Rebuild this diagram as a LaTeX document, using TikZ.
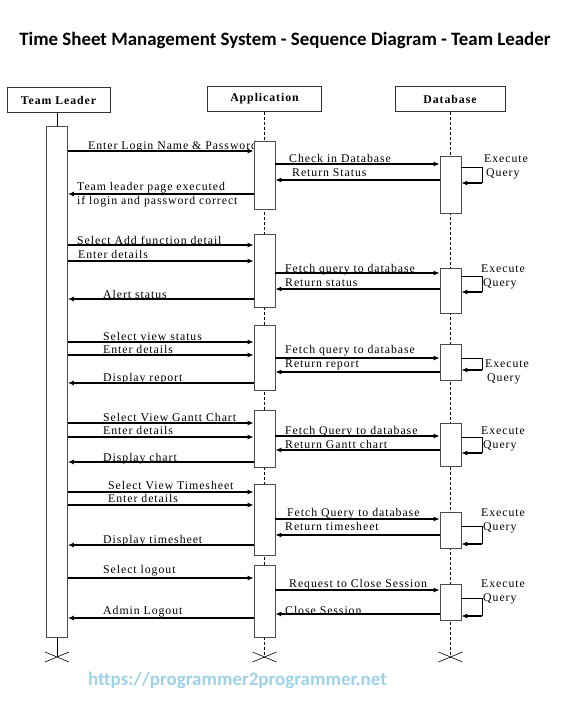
\documentclass[tikz,border=0pt]{standalone}
\usepackage{fontspec}
\setmainfont{Liberation Serif}[LetterSpace=8]
\newfontfamily\titlefont{Carlito}
\usetikzlibrary{arrows.meta,calc}
\definecolor{wmblue}{RGB}{158,210,232}
\tikzset{
  head/.style={draw=black!80, line width=0.8pt, minimum height=25pt, inner sep=0pt, font=\fontsize{11.8}{13}\selectfont\bfseries},
  act/.style={draw=black!70, line width=0.7pt, fill=white, minimum width=21pt, inner sep=0pt},
  msg/.style={line width=1.2pt, -{Latex[length=6pt,width=5pt]}},
  loopl/.style={line width=0.8pt},
  lbl/.style={anchor=base west, inner sep=0pt, yshift=-1.5pt, font=\fontsize{11.8}{13}\selectfont},
  life/.style={line width=0.9pt, dash pattern=on 3pt off 2pt},
  xmark/.style={line width=0.6pt}
}
\begin{document}
\begin{tikzpicture}[x=1pt,y=-1pt]
\useasboundingbox (0,0) rectangle (576,708);
% title
\node[font=\titlefont\fontsize{18.9}{21}\selectfont\bfseries] (title) at (285,40) {Time Sheet Management System - Sequence Diagram - Team Leader};
% headers
\node[head, minimum width=103pt] (tl) at (58.5,100) {Team Leader};
\node[head, minimum width=114pt] (app) at (264.5,99) {Application};
\node[head, minimum width=110pt] (db) at (450,99) {Database};
% end markers
\coordinate (tlx) at (57,657);
\coordinate (appx) at (264.5,657);
\coordinate (dbx) at (450.5,657);
\draw[xmark] ($(tlx)+(-12,-5)$) -- ($(tlx)+(12,5)$) ($(tlx)+(-12,5)$) -- ($(tlx)+(12,-5)$);
% lifelines
\draw[line width=0.7pt] (tl.south -| tlx) -- (57,126);
\draw[line width=0.7pt] (57,637) -- (tlx);
\draw[life] (app.south -| appx) -- (appx);
\draw[life] (db.south -| dbx) -- (dbx);
\foreach \p in {appx,dbx}{
  \draw[xmark] ($(\p)+(-12,-5)$) -- ($(\p)+(12,5)$) ($(\p)+(-12,5)$) -- ($(\p)+(12,-5)$);
}
% labels
\node[lbl] (l1) at (88,148) {Enter Login Name \& Password};
\node[lbl] (l2) at (289,161) {Check in Database};
\node[lbl] (l3) at (292,175) {Return Status};
\node[lbl] (l4) at (77,189) {Team leader page executed};
\node[lbl] (l5) at (77,203) {if login and password correct};
\node[lbl] (l6) at (77,243) {Select Add function detail};
\node[lbl] (l7) at (78,257) {Enter details};
\node[lbl] (l8) at (285,271) {Fetch query to database};
\node[lbl] (l9) at (285,285) {Return status};
\node[lbl] (l10) at (103,297) {Alert status};
\node[lbl] (l11) at (103,339) {Select view status};
\node[lbl] (l12) at (103,352) {Enter details};
\node[lbl] (l13) at (285,352) {Fetch query to database};
\node[lbl] (l14) at (285,366) {Return report};
\node[lbl] (l15) at (103,380) {Display report};
\node[lbl] (l16) at (103,420) {Select View Gantt Chart};
\node[lbl] (l17) at (103,433) {Enter details};
\node[lbl] (l18) at (285,433) {Fetch Query to database};
\node[lbl] (l19) at (285,447) {Return Gantt chart};
\node[lbl] (l20) at (103,460) {Display chart};
\node[lbl] (l21) at (108,488) {Select View Timesheet};
\node[lbl] (l22) at (108,501) {Enter details};
\node[lbl] (l23) at (287,515) {Fetch Query to database};
\node[lbl] (l24) at (285,529) {Return timesheet};
\node[lbl] (l25) at (103,542) {Display timesheet};
\node[lbl] (l26) at (103,572) {Select logout};
\node[lbl] (l27) at (289,586) {Request to Close Session};
\node[lbl] (l28) at (285,613) {Close Session};
\node[lbl] (l29) at (103,613) {Admin Logout};
% execute query labels
\foreach \x/\y [count=\i] in {484/161,481/271,485/366,481/433,481/515,481/586}{
  \node[lbl] (eq\i) at (\x,\y) {Execute};
  \node[lbl] (eqq\i) at (\x+2,\y+14) {Query};
}
% activations
\node[act, minimum height=511pt] (tla) at (57,381.5) {};
\node[act, minimum height=68pt] (a1) at (264.5,175) {};
\node[act, minimum height=73pt] (a2) at (264.5,270.5) {};
\node[act, minimum height=65pt] (a3) at (264.5,357.5) {};
\node[act, minimum height=57pt] (a4) at (264.5,438.5) {};
\node[act, minimum height=71pt] (a5) at (264.5,519.5) {};
\node[act, minimum height=72pt] (a6) at (264.5,601) {};
\node[act, minimum height=57pt] (d1) at (450.5,184.5) {};
\node[act, minimum height=45pt] (d2) at (450.5,290.5) {};
\node[act, minimum height=36pt] (d3) at (450.5,362) {};
\node[act, minimum height=43pt] (d4) at (450.5,444.5) {};
\node[act, minimum height=36pt] (d5) at (450.5,530) {};
\node[act, minimum height=36pt] (d6) at (450.5,602) {};
% messages group 1
\draw[msg] (tla.east |- 0,151) -- (a1.west |- 0,151);
\draw[msg] (a1.east |- 0,164) -- (d1.west |- 0,164);
\draw[msg] (d1.west |- 0,180) -- (a1.east |- 0,180);
\draw[msg] (a1.west |- 0,194) -- (tla.east |- 0,194);
% group 2
\draw[msg] (tla.east |- 0,245) -- (a2.west |- 0,245);
\draw[msg] (tla.east |- 0,261) -- (a2.west |- 0,261);
\draw[msg] (a2.east |- 0,273) -- (d2.west |- 0,273);
\draw[msg] (d2.west |- 0,289) -- (a2.east |- 0,289);
\draw[msg] (a2.west |- 0,299) -- (tla.east |- 0,299);
% group 3
\draw[msg] (tla.east |- 0,342) -- (a3.west |- 0,342);
\draw[msg] (tla.east |- 0,355) -- (a3.west |- 0,355);
\draw[msg] (a3.east |- 0,358) -- (d3.west |- 0,358);
\draw[msg] (d3.west |- 0,372) -- (a3.east |- 0,372);
\draw[msg] (a3.west |- 0,383) -- (tla.east |- 0,383);
% group 4
\draw[msg] (tla.east |- 0,423) -- (a4.west |- 0,423);
\draw[msg] (tla.east |- 0,437) -- (a4.west |- 0,437);
\draw[msg] (a4.east |- 0,436) -- (d4.west |- 0,436);
\draw[msg] (d4.west |- 0,450) -- (a4.east |- 0,450);
\draw[msg] (a4.west |- 0,462) -- (tla.east |- 0,462);
% group 5
\draw[msg] (tla.east |- 0,492) -- (a5.west |- 0,492);
\draw[msg] (tla.east |- 0,505) -- (a5.west |- 0,505);
\draw[msg] (a5.east |- 0,519) -- (d5.west |- 0,519);
\draw[msg] (d5.west |- 0,535) -- (a5.east |- 0,535);
\draw[msg] (a5.west |- 0,545) -- (tla.east |- 0,545);
% group 6
\draw[msg] (tla.east |- 0,578) -- (a6.west |- 0,578);
\draw[msg] (a6.east |- 0,590) -- (d6.west |- 0,590);
\draw[msg] (d6.west |- 0,614) -- (a6.east |- 0,614);
\draw[msg] (a6.west |- 0,618) -- (tla.east |- 0,618);
% self loops
\foreach \n/\ya/\yb in {d1/167/183, d2/276/292, d3/358/370, d4/437/453, d5/526/544, d6/598/616}{
  \draw[loopl] (\n.east |- 0,\ya) -- ++(21,0) -- ++(0,\yb-\ya);
  \draw[msg] (\n.east |- 0,\yb) ++(21,0) -- (\n.east |- 0,\yb);
}
% watermark
\node[font=\titlefont\fontsize{19}{21}\selectfont\bfseries, text=wmblue, anchor=west, inner sep=0pt] (wm) at (88,680) {https://programmer2programmer.net};
\end{tikzpicture}
\end{document}
